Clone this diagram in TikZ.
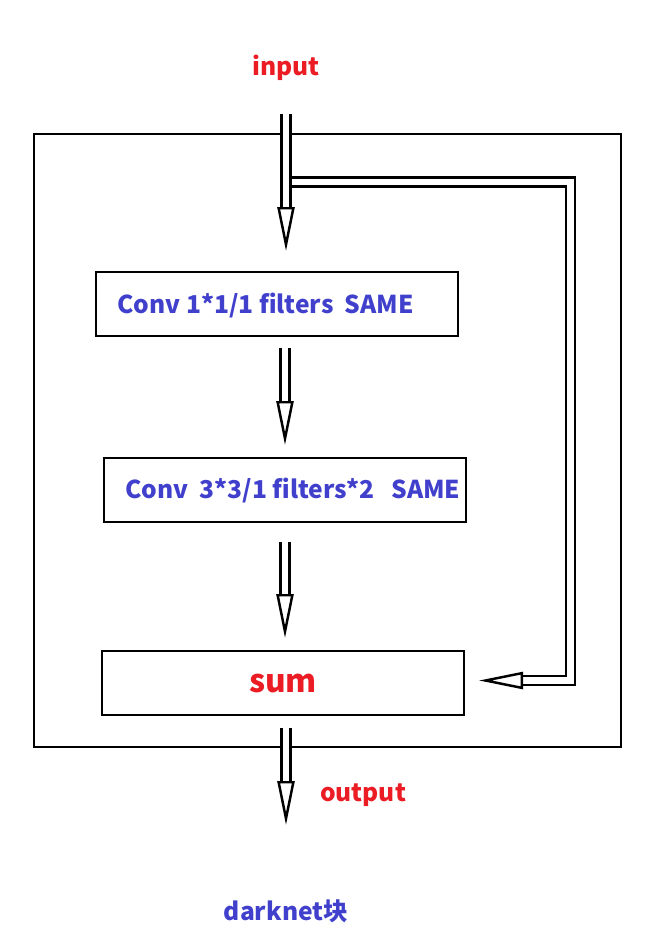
\documentclass[tikz,border=0pt]{standalone}
\usepackage{fontspec}
\setmainfont{Noto Sans CJK SC}
\usetikzlibrary{arrows.meta,calc}
\definecolor{lblue}{RGB}{64,64,205}
\definecolor{lred}{RGB}{235,28,36}
\tikzset{
  blk/.style={draw, line width=1.4pt, minimum width=362*0.02cm, minimum height=64*0.02cm, inner sep=0pt},
  shaft/.style={draw, line width=1.4pt, double=white, double distance=3.6pt},
  head/.style={line width=1.4pt, -{Triangle[open, length=44*0.02cm, width=17*0.02cm, line join=miter]}},
  txt/.style={font=\bfseries\fontsize{14}{16}\selectfont, text=lblue}
}
\newcommand{\harrow}[2]{%
  \draw[shaft] #1 -- ($#2!44*0.02cm!#1$);
  \draw[head] ($#2!44*0.02cm!#1$) -- #2;}
\begin{document}
\begin{tikzpicture}[x=0.02cm,y=-0.02cm]
  \useasboundingbox (0,0) rectangle (667,931);
  \draw[line width=1.6pt] (34,134) rectangle (621,747);

  \node[txt, text=lred] (inp) at (286,68) {input};
  \node[blk] (c1) at (277,304) {};
  \node[txt, anchor=west] (c1t) at (111,306) {Conv 1*1/1 filters\ \ SAME};
  \node[blk] (c2) at (285,490) {};
  \node[txt, anchor=west] (c2t) at (119,491) {Conv\ \ 3*3/1 filters*2\ \ \ SAME};
  \node[blk, font=\bfseries\fontsize{18}{20}\selectfont, text=lred] (sum) at (283,683) {sum};
  \node[txt, text=lred] (out) at (363,795) {output};
  \node[txt] (title) at (286,911) {darknet块};

  \coordinate (a1s) at (286,114);
  \coordinate (a1e) at (286,251);
  \coordinate (a2s) at (285,348);
  \coordinate (a2e) at (285,445);
  \coordinate (a3s) at (285,542);
  \coordinate (a3e) at (285,638);
  \coordinate (a4s) at (286,728);
  \coordinate (a4e) at (286,825);
  \coordinate (bs) at (291,182);
  \coordinate (br1) at (570.5,182);
  \coordinate (br2) at (570.5,680.5);
  \coordinate (be) at (479,680.5);

  % bypass
  \draw[shaft] (bs) -- (br1) -- (br2) -- ($(be)!44*0.02cm!(br2)$);
  \draw[head] ($(be)!44*0.02cm!(br2)$) -- (be);
  \harrow{(a1s)}{(a1e)}
  \harrow{(a2s)}{(a2e)}
  \harrow{(a3s)}{(a3e)}
  \harrow{(a4s)}{(a4e)}
\end{tikzpicture}
\end{document}
